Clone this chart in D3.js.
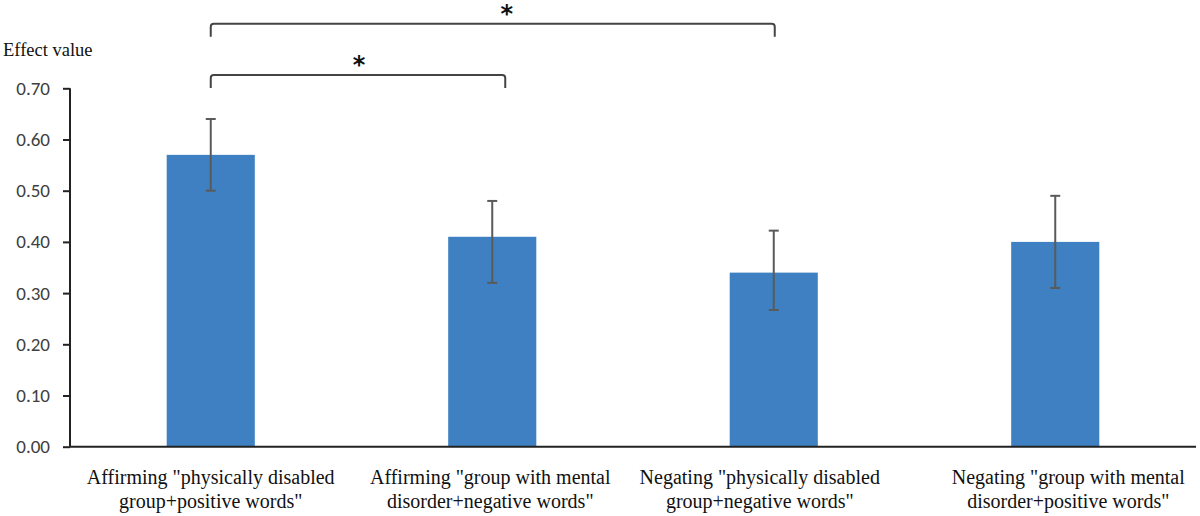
<!DOCTYPE html>
<html>
<head>
<meta charset="utf-8">
<script src="https://cdn.jsdelivr.net/npm/d3@7"></script>
<style>
  body { margin: 0; background: #fff; }
  svg { display: block; }
  .serif { font-family: "Liberation Serif", "Times New Roman", serif; }
  .calib { font-family: Carlito, Calibri, "Liberation Sans", sans-serif; }
</style>
</head>
<body>
<div id="chart"></div>
<script>
// data
var categories = ["c1", "c2", "c3", "c4"];
var labelLines = [
  ['Affirming "physically disabled', 'group+positive words"'],
  ['Affirming "group with mental', 'disorder+negative words"'],
  ['Negating "physically disabled', 'group+negative words"'],
  ['Negating "group with mental', 'disorder+positive words"']
];
var effectValues = [0.57, 0.41, 0.34, 0.40];
var errorLow = [0.50, 0.32, 0.267, 0.31];
var errorHigh = [0.64, 0.48, 0.422, 0.49];
var yTicks = [0, 0.1, 0.2, 0.3, 0.4, 0.5, 0.6, 0.7];
// significance brackets: from bar, to bar, level (in effect units)
var bracketFrom = [0, 0];
var bracketTo = [1, 2];
var bracketLevel = [0.726, 0.826];

var width = 1200;
var height = 516;

var svg = d3.select("#chart")
  .append("svg")
  .attr("width", width)
  .attr("height", height);

// scales
var xScale = d3.scaleBand()
  .domain(categories)
  .range([70, 1196])
  .paddingInner(0.687)
  .paddingOuter(0.3435);

var yScale = d3.scaleLinear()
  .domain([0, 0.7])
  .range([446.7, 88.3]);

function center(i) {
  return xScale(categories[i]) + xScale.bandwidth() / 2;
}

// y axis
var yAxis = d3.axisLeft(yScale)
  .tickValues(yTicks)
  .tickFormat(d3.format(".2f"))
  .tickSize(7)
  .tickPadding(13);

var yG = svg.append("g")
  .attr("transform", "translate(70,0)")
  .call(yAxis);
yG.attr("font-family", null).attr("font-size", null);
yG.select(".domain").attr("stroke", "#222").attr("stroke-width", 2)
  .attr("d", "M0," + yScale(0.7) + "V" + yScale(0));
yG.selectAll(".tick line").attr("stroke", "#222").attr("stroke-width", 2);
yG.selectAll(".tick text")
  .attr("class", "calib")
  .attr("fill", "#404040")
  .attr("font-size", 19);

// bars
svg.selectAll(".bar")
  .data(effectValues)
  .enter()
  .append("rect")
  .attr("class", "bar")
  .attr("x", function(d, i) { return xScale(categories[i]); })
  .attr("y", function(d) { return yScale(d); })
  .attr("width", xScale.bandwidth())
  .attr("height", function(d) { return yScale(0) - yScale(d); })
  .attr("fill", "#3e80c1");

// x axis baseline
svg.append("line")
  .attr("x1", 70)
  .attr("x2", 1196)
  .attr("y1", yScale(0))
  .attr("y2", yScale(0))
  .attr("stroke", "#222")
  .attr("stroke-width", 2);

// error bars
var errG = svg.append("g")
  .attr("stroke", "#5a5a5a")
  .attr("stroke-width", 2);
effectValues.forEach(function(v, i) {
  var cx = center(i);
  errG.append("line")
    .attr("x1", cx).attr("x2", cx)
    .attr("y1", yScale(errorHigh[i])).attr("y2", yScale(errorLow[i]));
  errG.append("line")
    .attr("x1", cx - 5).attr("x2", cx + 5)
    .attr("y1", yScale(errorHigh[i])).attr("y2", yScale(errorHigh[i]));
  errG.append("line")
    .attr("x1", cx - 5).attr("x2", cx + 5)
    .attr("y1", yScale(errorLow[i])).attr("y2", yScale(errorLow[i]));
});

// category labels (excel wraps them a little off the bar centre)
var labelShift = [0, -2, -14, 13];
labelLines.forEach(function(lines, i) {
  var lx = center(i) + labelShift[i];
  var t = svg.append("text")
    .attr("class", "serif")
    .attr("x", lx)
    .attr("y", 484)
    .attr("text-anchor", "middle")
    .attr("fill", "#111")
    .attr("font-size", 20);
  lines.forEach(function(line, j) {
    t.append("tspan")
      .attr("x", lx)
      .attr("dy", j === 0 ? 0 : 23.5)
      .text(line);
  });
});

// y axis title
svg.append("text")
  .attr("class", "serif")
  .attr("x", 3)
  .attr("y", 56)
  .attr("fill", "#111")
  .attr("font-size", 18.5)
  .text("Effect value");

// significance brackets
var starShift = [1, 14];   // asterisks sit a bit right of the middle
var endShift = [13, 1];    // the short bracket ends past its bar centre
bracketLevel.forEach(function(lvl, k) {
  var x1 = center(bracketFrom[k]);
  var x2 = center(bracketTo[k]) + endShift[k];
  var y = yScale(lvl);
  var r = 3;
  svg.append("path")
    .attr("d", "M" + x1 + "," + (y + 13) + "V" + (y + r) + "Q" + x1 + "," + y + " " + (x1 + r) + "," + y +
      "H" + (x2 - r) + "Q" + x2 + "," + y + " " + x2 + "," + (y + r) + "V" + (y + 13))
    .attr("fill", "none")
    .attr("stroke", "#444")
    .attr("stroke-width", 2);
  svg.append("text")
    .attr("x", (x1 + x2) / 2 + starShift[k])
    .attr("y", y - 2)
    .attr("text-anchor", "middle")
    .attr("fill", "#111")
    .attr("font-family", "'DejaVu Sans', sans-serif")
    .attr("font-weight", "bold")
    .attr("font-size", 24)
    .text("*");
});
</script>
</body>
</html>
